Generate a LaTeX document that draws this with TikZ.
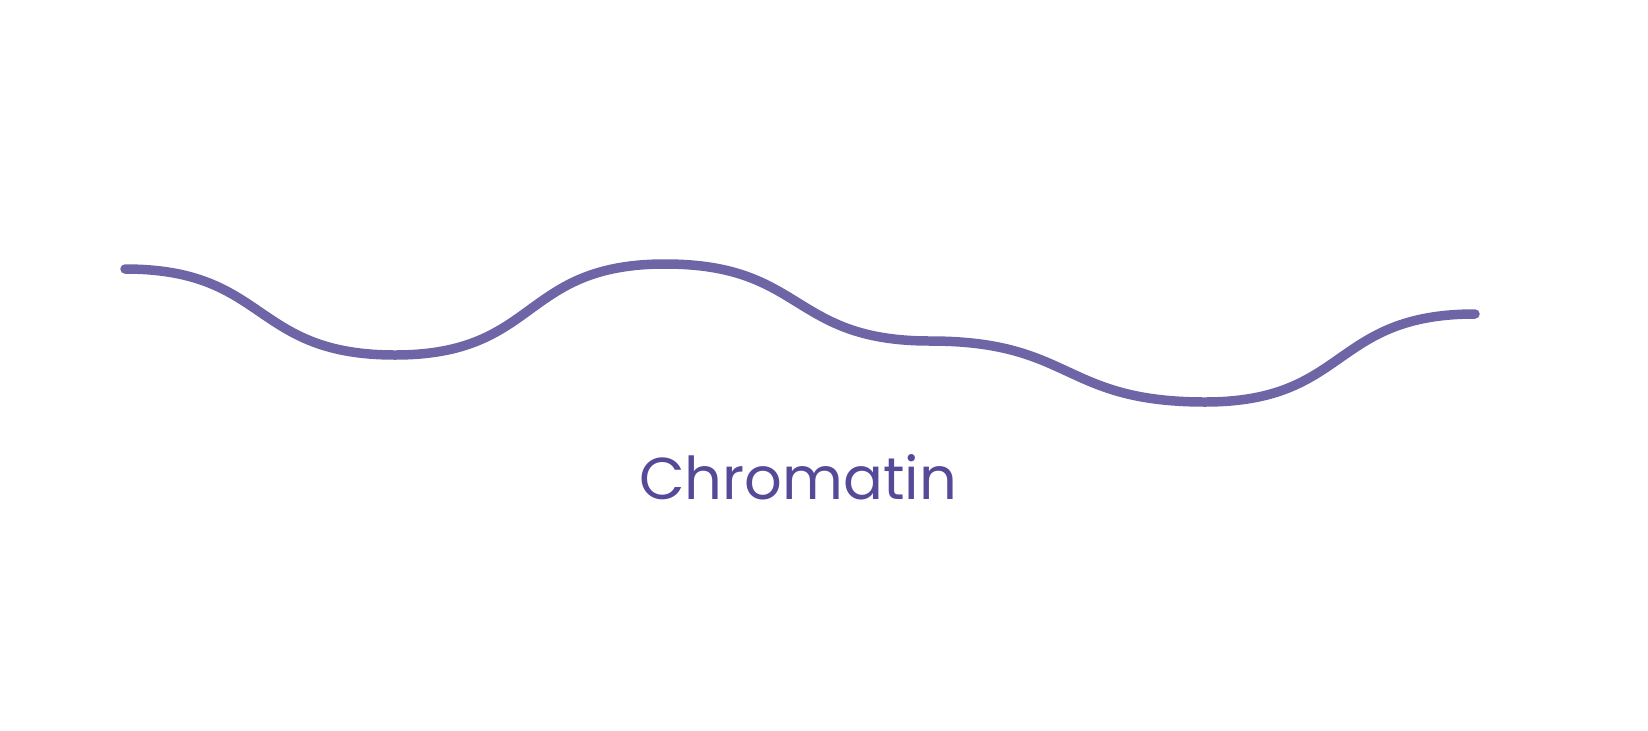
\documentclass[tikz,border=0pt]{standalone}
\usepackage{fontspec}
\setmainfont{Poppins}
\usetikzlibrary{positioning}
\definecolor{fibre}{HTML}{6E65A6}
\definecolor{labeltext}{HTML}{554A98}
\tikzstyle{fibre} = [draw=fibre, line width=2.7pt, line cap=round]
\tikzstyle{label} = [text=labeltext, font=\fontsize{16.8}{20}\selectfont, inner sep=0pt]

\begin{document}
\begin{tikzpicture}[x=0.01cm, y=-0.01cm]

\useasboundingbox (0,0) rectangle (1648,730);

\coordinate (c0) at (125,269);
\coordinate (c1) at (395,355);
\coordinate (c2) at (665,264);
\coordinate (c3) at (930,341);
\coordinate (c4) at (1205,402);
\coordinate (c5) at (1475,314);

\path [fibre, looseness=1.3] (c0) to[out=0,in=180] (c1) to[out=0,in=180] (c2) to[out=0,in=180] (c3)
  to[out=0,in=180] (c4) to[out=0,in=180] (c5);

\node (chromatin) [label, anchor=base] at (798,499) {Chromatin};

\end{tikzpicture}
\end{document}
